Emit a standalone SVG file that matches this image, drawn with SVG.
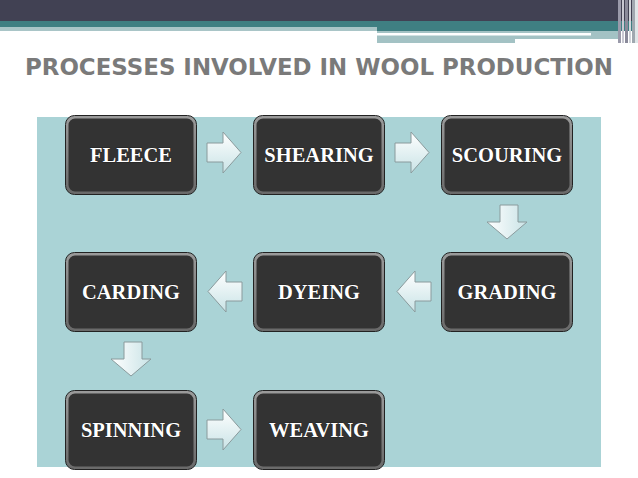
<svg xmlns="http://www.w3.org/2000/svg" width="638" height="478" viewBox="0 0 638 478">
<defs>
<linearGradient id="arrH" x1="0" y1="0" x2="0" y2="1"><stop offset="0" stop-color="#ffffff"/><stop offset="1" stop-color="#c9e3e6"/></linearGradient>
<linearGradient id="arrV" x1="0" y1="0" x2="1" y2="0"><stop offset="0" stop-color="#ffffff"/><stop offset="1" stop-color="#c9e3e6"/></linearGradient>
<linearGradient id="boxStroke" x1="0" y1="0" x2="0" y2="1"><stop offset="0" stop-color="#9a9a9a"/><stop offset="1" stop-color="#6a6a6a"/></linearGradient>
<path id="ra" d="M0 11 H16 V0 L34 20.5 L16 41 V30 H0 Z"/>
<path id="la" d="M34 11 H18 V0 L0 20.5 L18 41 V30 H34 Z"/>
<path id="da" d="M13 0 H31 V17 H40 L20 34 L0 17 H13 Z"/>
</defs>
<style>
.box{fill:#333333;stroke:url(#boxStroke);stroke-width:3}
.boxo{fill:none;stroke:#222;stroke-width:1}
.lbl{font-family:"Liberation Serif",serif;font-weight:bold;font-size:20.5px;fill:#ffffff;stroke:#111;stroke-width:0.6;paint-order:stroke;text-anchor:middle}
.ah{fill:url(#arrH);stroke:#8a9a9c;stroke-width:1}
.av{fill:url(#arrV);stroke:#8a9a9c;stroke-width:1}
</style>
<rect width="638" height="478" fill="#ffffff"/>
<g id="header">
<rect x="0" y="0" width="638" height="21" fill="#414153"/>
<rect x="0" y="21" width="638" height="6" fill="#3f7f82"/>
<rect x="0" y="27" width="377" height="4" fill="#a9c5c7"/>
<rect x="377" y="27" width="261" height="4" fill="#3f7f82"/>
<rect x="377" y="31" width="241" height="8" fill="#a3c2c4"/>
<rect x="377" y="33" width="214" height="2.5" fill="#ffffff"/>
<rect x="377" y="39" width="138" height="4" fill="#a3c2c4"/>
<rect x="618" y="0" width="3" height="43" fill="#9a9aaa"/>
<rect x="622" y="0" width="2" height="43" fill="#c8c8d2"/>
<rect x="625" y="0" width="3" height="43" fill="#8a8a9a"/>
<rect x="629" y="0" width="2" height="43" fill="#d0d4da"/>
<rect x="632" y="0" width="3" height="43" fill="#a0a8b0"/>
<rect x="635" y="0" width="3" height="43" fill="#dfe6e8"/>
</g>
<text id="title" x="319" y="75" font-family="'DejaVu Sans',sans-serif" font-weight="bold" font-size="23.5" fill="#7a7a7a" text-anchor="middle" textLength="588" lengthAdjust="spacingAndGlyphs">PROCESSES INVOLVED IN WOOL PRODUCTION</text>
<rect id="panel" x="37" y="117" width="564" height="350" fill="#aad3d6"/>
<g id="connectors">
<use href="#ra" x="207" y="132" class="ah"/>
<use href="#ra" x="395" y="132" class="ah"/>
<use href="#da" x="487" y="205" class="av"/>
<use href="#la" x="397" y="271" class="ah"/>
<use href="#la" x="208" y="271" class="ah"/>
<use href="#da" x="111" y="342" class="av"/>
<use href="#ra" x="207" y="409" class="ah"/>
</g>
<g id="fleece"><rect class="box" x="67" y="117" width="128" height="76" rx="8"/><rect class="boxo" x="65.5" y="115.5" width="131" height="79" rx="9"/><text class="lbl" x="131" y="162">FLEECE</text></g>
<g id="shearing"><rect class="box" x="255" y="117" width="128" height="76" rx="8"/><rect class="boxo" x="253.5" y="115.5" width="131" height="79" rx="9"/><text class="lbl" x="319" y="162">SHEARING</text></g>
<g id="scouring"><rect class="box" x="443" y="117" width="128" height="76" rx="8"/><rect class="boxo" x="441.5" y="115.5" width="131" height="79" rx="9"/><text class="lbl" x="507" y="162">SCOURING</text></g>
<g id="grading"><rect class="box" x="443" y="254" width="128" height="76" rx="8"/><rect class="boxo" x="441.5" y="252.5" width="131" height="79" rx="9"/><text class="lbl" x="507" y="299">GRADING</text></g>
<g id="dyeing"><rect class="box" x="255" y="254" width="128" height="76" rx="8"/><rect class="boxo" x="253.5" y="252.5" width="131" height="79" rx="9"/><text class="lbl" x="319" y="299">DYEING</text></g>
<g id="carding"><rect class="box" x="67" y="254" width="128" height="76" rx="8"/><rect class="boxo" x="65.5" y="252.5" width="131" height="79" rx="9"/><text class="lbl" x="131" y="299">CARDING</text></g>
<g id="spinning"><rect class="box" x="67" y="392" width="128" height="76" rx="8"/><rect class="boxo" x="65.5" y="390.5" width="131" height="79" rx="9"/><text class="lbl" x="131" y="437">SPINNING</text></g>
<g id="weaving"><rect class="box" x="255" y="392" width="128" height="76" rx="8"/><rect class="boxo" x="253.5" y="390.5" width="131" height="79" rx="9"/><text class="lbl" x="319" y="437">WEAVING</text></g>
</svg>
